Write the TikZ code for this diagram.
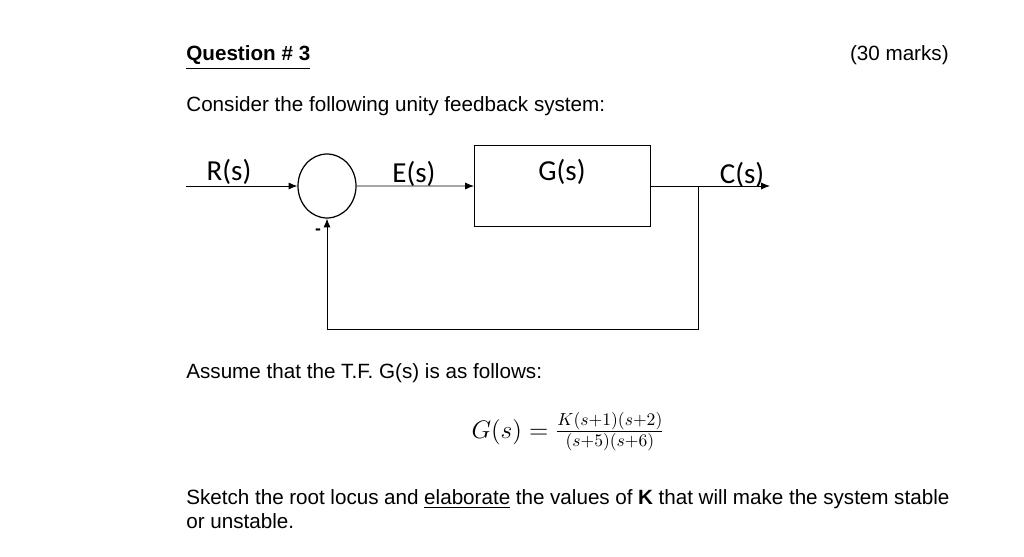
\documentclass[tikz,border=0pt]{standalone}
\usepackage{fontspec}
\setmainfont{Liberation Sans}
\newfontfamily\labfont{Carlito}
\usepackage{amsmath}
\usetikzlibrary{shapes.geometric,arrows.meta}
\begin{document}
\begin{tikzpicture}[x=0.02cm,y=-0.02cm,
  txt/.style={anchor=base west,inner sep=0,font=\fontsize{11.75}{14}\selectfont},
  lab/.style={inner sep=0,font=\labfont\fontsize{16.5}{18}\selectfont},
  sig/.style={draw,line width=0.5pt},
  arr/.style={sig,-{Latex[length=5pt,width=4pt]}}]
\useasboundingbox (0,0) rectangle (1024,557);
\node[txt] (q) at (186,61) {\textbf{\underline{Question \# 3}}};
\node[txt,anchor=base east] (m) at (949,61) {(30 marks)};
\node[txt] (c) at (186,112) {Consider the following unity feedback system:};
% diagram
\node[draw,ellipse,minimum width=58*0.02cm,minimum height=64*0.02cm,inner sep=0,line width=0.7pt] (sum) at (327,186) {};
\node[draw,minimum width=176*0.02cm,minimum height=81*0.02cm,anchor=north west,line width=0.6pt] (g) at (474,145) {};
\coordinate (in) at (186,186);
\coordinate (out) at (770,186);
\coordinate (br) at (698,186);
\coordinate (b1) at (698,329);
\coordinate (b2) at (327,329);
\draw[arr] (in) -- (sum.west);
\draw[arr] (sum.east) -- (g.west);
\draw[arr] (g.east |- out) -- (out);
\draw[arr] (br) -- (b1) -- (b2) -- (sum.south);
\node[lab] (r) at (229,172) {R(s)};
\node[lab] (e) at (414,174) {E(s)};
\node[lab] (gl) at (562,172) {G(s)};
\node[lab] (cl) at (742,175) {C(s)};
\node[inner sep=0,font=\bfseries] (minus) at (318,232) {-};
\node[txt] (a) at (186,378) {Assume that the T.F. G(s) is as follows:};
\node[inner sep=0] (eq) at (568,432) {\fontsize{14}{16}\selectfont$G(s)=\frac{K(s+1)(s+2)}{(s+5)(s+6)}$};
\node[txt,text width=763*0.02cm,align=justify,anchor=north west] (sk) at (186,489)
 {\fontsize{11.75}{14.5}\selectfont Sketch the root locus and \underline{elaborate} the values of \textbf{K} that will make the system stable or unstable.};
\end{tikzpicture}
\end{document}
